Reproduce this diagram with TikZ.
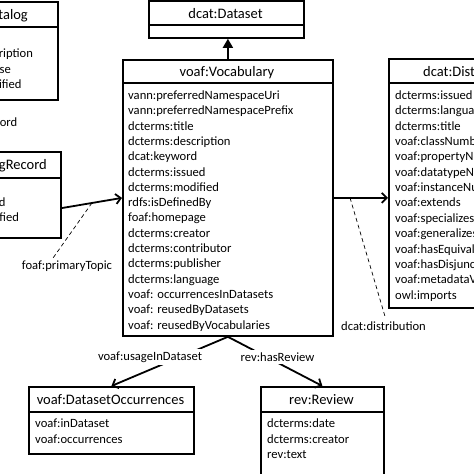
\documentclass[tikz,border=0pt]{standalone}
\usepackage{fontspec}
\setmainfont{Carlito}
\usetikzlibrary{arrows.meta,calc}
\begin{document}
\begin{tikzpicture}[x=1pt,y=-1pt,
  box/.style={draw=black,line width=1.8pt,rectangle,inner sep=0pt,anchor=north west},
  sepline/.style={draw=black,line width=1.8pt},
  ttl/.style={font=\fontsize{14.5}{17}\selectfont,inner sep=0pt,anchor=base},
  attr/.style={font=\fontsize{12.6}{15.3}\selectfont,inner sep=0pt,anchor=base west},
  conn/.style={line width=1.8pt,-{Straight Barb[length=5pt,width=10pt,line width=1.8pt]}},
  gen/.style={line width=1.8pt,-{Triangle[length=9pt,width=10pt]}},
  lbl/.style={font=\fontsize{12.6}{15.3}\selectfont,fill=white,inner sep=3pt},
  dashline/.style={line width=0.7pt,dash pattern=on 4pt off 3pt}
]
\useasboundingbox (0,0) rectangle (474,474);
\fill[white] (0,0) rectangle (474,474);
\clip (0,0) rectangle (474,474);

% boxes
\node[box,minimum width=160pt,minimum height=98pt] (cat) at (-103,1) {};
\node[box,minimum width=160pt,minimum height=86pt] (cr) at (-100,151) {};
\node[box,minimum width=155pt,minimum height=37pt] (ds) at (148,0) {};
\node[box,minimum width=210pt,minimum height=276pt] (voc) at (122,59) {};
\node[box,minimum width=170pt,minimum height=249pt] (dist) at (388,58) {};
\node[box,minimum width=165pt,minimum height=67pt] (do) at (28,386) {};
\node[box,minimum width=123pt,minimum height=90pt] (rev) at (260,386) {};

% header separators
\draw[sepline] ([yshift=-26pt]cat.north west) -- ([yshift=-26pt]cat.north east);
\draw[sepline] ([yshift=-27pt]cr.north west) -- ([yshift=-27pt]cr.north east);
\draw[sepline] ([yshift=-25pt]ds.north west) -- ([yshift=-25pt]ds.north east);
\draw[sepline] ([yshift=-24pt]voc.north west) -- ([yshift=-24pt]voc.north east);
\draw[sepline] ([yshift=-25pt]dist.north west) -- ([yshift=-25pt]dist.north east);
\draw[sepline] ([yshift=-26pt]do.north west) -- ([yshift=-26pt]do.north east);
\draw[sepline] ([yshift=-26pt]rev.north west) -- ([yshift=-26pt]rev.north east);

% titles
\node[ttl,anchor=base east] (catt) at (28,19) {dcat:Catalog};
\node[ttl,anchor=base east] (crt) at (47,169) {dcat:CatalogRecord};
\node[ttl] (dst) at (225.5,18) {dcat:Dataset};
\node[ttl] (voct) at (227,76) {voaf:Vocabulary};
\node[ttl,anchor=base west] (distt) at (423,76) {dcat:Distribution};
\node[ttl] (dot) at (110.5,404) {voaf:DatasetOccurrences};
\node[ttl] (revt) at (321.5,404) {rev:Review};

% attributes
\foreach \t [count=\i] in {dcterms:description,dcterms:license,dcterms:modified}
  \node[attr] (ca\i) at (-69.6,{57.8+15.3*(\i-1)}) {\t};
\foreach \t [count=\i] in {dcterms:issued,dcterms:modified}
  \node[attr] (cra\i) at (-72,{206+15.3*(\i-1)}) {\t};
\foreach \t [count=\i] in {vann:preferredNamespaceUri,vann:preferredNamespacePrefix,dcterms:title,dcterms:description,dcat:keyword,dcterms:issued,dcterms:modified,rdfs:isDefinedBy,foaf:homepage,dcterms:creator,dcterms:contributor,dcterms:publisher,dcterms:language,voaf: occurrencesInDatasets,voaf: reusedByDatasets,voaf: reusedByVocabularies}
  \node[attr] (va\i) at (128,{99.5+15.3*(\i-1)}) {\t};
\foreach \t [count=\i] in {dcterms:issued,dcterms:language,dcterms:title,voaf:classNumber,voaf:propertyNumber,voaf:datatypeNumber,voaf:instanceNumber,voaf:extends,voaf:specializes,voaf:generalizes,voaf:hasEquivalencesWith,voaf:hasDisjunctionsWith,voaf:metadataVoc,owl:imports}
  \node[attr] (da\i) at (395,{99.5+15.35*(\i-1)}) {\t};
\foreach \t [count=\i] in {voaf:inDataset,voaf:occurrences}
  \node[attr] (doa\i) at (35,{427.5+15.8*(\i-1)}) {\t};
\foreach \t [count=\i] in {dcterms:date,dcterms:creator,rev:text}
  \node[attr] (ra\i) at (267,{427.5+15.6*(\i-1)}) {\t};

% connectors
\coordinate (crp) at ($(cr.north east)!0.65!(cr.south east)$);
\draw[gen] (voc.north) -- (voc.north |- ds.south);
\draw[conn] (crp) -- (voc.west);
\draw[conn] (voc.east) -- (voc.east -| dist.west);
\draw[conn] (voc.south) -- (do.north);
\draw[conn] (voc.south) -- (rev.north);

% labels
\node[lbl] (lusage) at (150,357) {voaf:usageInDataset};
\node[lbl] (lrev) at (277.5,357) {rev:hasReview};
\node[lbl,fill=none,inner sep=0pt] (ldist) at (383.5,326) {dcat:distribution};
\node[lbl,fill=none,inner sep=0pt] (lpt) at (67,266) {foaf:primaryTopic};
\node[lbl,fill=none,inner sep=0pt,anchor=east] (lrec) at (17.5,122) {dcat:record};

\coordinate (ptmid) at ($(crp)!0.5!(voc.west)$);
\coordinate (dmid) at ($(voc.east)!0.3!(voc.east -| dist.west)$);
\draw[dashline] (ptmid) -- ($(lpt.north)+(-15,-1)$);
\draw[dashline] (dmid) -- ([xshift=1.5pt,yshift=5pt]ldist.north);
\end{tikzpicture}
\end{document}
